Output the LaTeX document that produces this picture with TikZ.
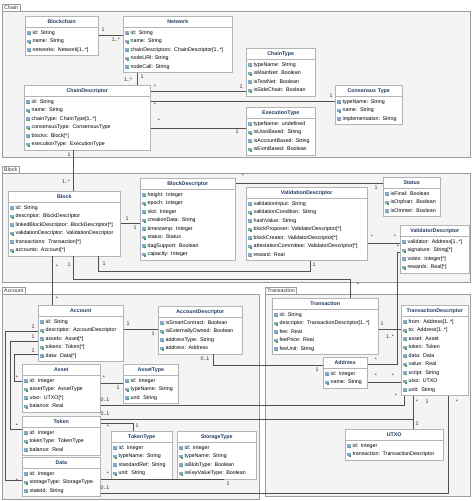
\documentclass[tikz,border=0pt]{standalone}
\usepackage{fontspec}
\setmainfont{Liberation Sans}
\usetikzlibrary{shapes.multipart}
\definecolor{headcol}{HTML}{1F3A60}
\definecolor{txtcol}{HTML}{303030}
\definecolor{boxline}{HTML}{B4B4B4}
\definecolor{pkgline}{HTML}{9C9C9C}
\definecolor{pkgfill}{HTML}{F4F4F4}
\definecolor{linecol}{HTML}{505050}
\definecolor{fldblue}{HTML}{86AACB}
\definecolor{fldgreen}{HTML}{3E9E5A}
\tikzset{
  umlclass/.style={rectangle split, rectangle split parts=2, draw=boxline, fill=white,
    anchor=north west, inner xsep=2pt, inner ysep=1pt, text=txtcol,
    font=\fontsize{5.3}{8.5}\selectfont, line width=0.5pt},
  pkg/.style={draw=pkgline, fill=pkgfill, line width=0.5pt},
  pkgtab/.style={draw=pkgline, fill=white, anchor=south west, inner xsep=2pt, inner ysep=1.5pt,
    font=\fontsize{5.3}{6}\selectfont, text=txtcol, line width=0.5pt},
  assoc/.style={draw=linecol, line width=0.6pt},
  mult/.style={font=\fontsize{5.3}{6}\selectfont, inner sep=0pt, text=txtcol}
}
\newcommand\fld{\strut\textcolor{fldblue}{\rule[-0.3pt]{3.8pt}{3.4pt}}\kern-1.7pt\textcolor{fldgreen}{\rule[-0.9pt]{1.7pt}{1.7pt}}\kern1.6pt}
\newcommand\hd[1]{\centering\textbf{\textcolor{headcol}{#1}}\strut\par}

\begin{document}
\begin{tikzpicture}[x=1pt, y=-1pt]
\useasboundingbox (0,0) rectangle (474,501);

% packages
\draw[pkg] (2,11) rectangle (470,157);
\node[pkgtab] (chaintab) at (2,11) {Chain};
\draw[pkg] (2,173) rectangle (470,282);
\node[pkgtab] (blocktab) at (2,173) {Block};
\draw[pkg] (2,294) rectangle (259,499);
\node[pkgtab] (accounttab) at (2,294) {Account};
\draw[pkg] (265,294) rectangle (470,496);
\node[pkgtab] (transactiontab) at (265,294) {Transaction};

% Chain
\node[umlclass, text width=69pt] (blockchain) at (25,16) {\hd{Blockchain}\nodepart{two}\raggedright
  \fld id: String\\ \fld name: String\\ \fld networks: Network[1..*]};
\node[umlclass, text width=105pt] (network) at (123,16) {\hd{Network}\nodepart{two}\raggedright
  \fld id: String\\ \fld name: String\\ \fld chainDescriptors: ChainDescriptor[1..*]\\
  \fld nodeURI: String\\ \fld nodeCall: String};
\node[umlclass, text width=122pt] (chaindesc) at (24,85) {\hd{ChainDescriptor}\nodepart{two}\raggedright
  \fld id: String\\ \fld name: String\\ \fld chainType: ChainType[1..*]\\
  \fld consensusType: ConsensusType\\ \fld blocks: Block[*]\\ \fld executionType: ExecutionType};
\node[umlclass, text width=65pt] (chaintype) at (246,48) {\hd{ChainType}\nodepart{two}\raggedright
  \fld typeName: String\\ \fld isMainNet: Boolean\\ \fld isTestNet: Boolean\\ \fld isSideChain: Boolean};
\node[umlclass, text width=63pt] (consensus) at (335,85) {\hd{Consensus Type}\nodepart{two}\raggedright
  \fld typeName: String\\ \fld name: String\\ \fld implementation: String};
\node[umlclass, text width=65pt] (exectype) at (246,107) {\hd{ExecutionType}\nodepart{two}\raggedright
  \fld typeName: undefined\\ \fld isUtxoBased: String\\ \fld isAccountBased: String\\ \fld isEvmBased: Boolean};

% Block
\node[umlclass, text width=108pt] (block) at (8,191) {\hd{Block}\nodepart{two}\raggedright
  \fld id: String\\ \fld descriptor: BlockDescriptor\\ \fld linkedBlockDescriptor: BlockDescriptor[*]\\
  \fld validationDescriptor: ValidationDescriptor\\ \fld transactions: Transaction[*]\\ \fld accounts: Account[*]};
\node[umlclass, text width=91pt] (blockdesc) at (140,178) {\hd{BlockDescriptor}\nodepart{two}\raggedright
  \fld height: Integer\\ \fld epoch: Integer\\ \fld slot: Integer\\ \fld creationData: String\\
  \fld timestamp: Integer\\ \fld status: Status\\ \fld dagSupport: Boolean\\ \fld capacity: Integer};
\node[umlclass, text width=117pt] (validation) at (246,187) {\hd{ValidationDescriptor}\nodepart{two}\raggedright
  \fld validationInput: String\\ \fld validationCondition: String\\ \fld hashValue: String\\
  \fld blockProposer: ValidatorDescriptor[*]\\ \fld blockCreator: ValidatorDescriptor[*]\\
  \fld attestationCommittee: ValidatorDescriptor[*]\\ \fld reward: Real};
\node[umlclass, text width=53pt] (status) at (383,177) {\hd{Status}\nodepart{two}\raggedright
  \fld isFinal: Boolean\\ \fld isOrphan: Boolean\\ \fld isOmmer: Boolean};
\node[umlclass, text width=65pt] (validator) at (400,225) {\hd{ValidatorDescriptor}\nodepart{two}\raggedright
  \fld validator: Address[1..*]\\ \fld signature: String[*]\\ \fld votes: Integer[*]\\ \fld rewards: Real[*]};

% Account
\node[umlclass, text width=81pt] (account) at (38,305) {\hd{Account}\nodepart{two}\raggedright
  \fld id: String\\ \fld descriptor: AccountDescriptor\\ \fld assets: Asset[*]\\ \fld tokens: Token[*]\\ \fld data: Data[*]};
\node[umlclass, text width=80pt] (accdesc) at (158,306) {\hd{AccountDescriptor}\nodepart{two}\raggedright
  \fld isSmartContract: Boolean\\ \fld isExternallyOwned: Boolean\\ \fld addressType: String\\ \fld address: Address};
\node[umlclass, text width=74pt] (asset) at (22,364) {\hd{Asset}\nodepart{two}\raggedright
  \fld id: Integer\\ \fld assetType: AssetType\\ \fld utxo: UTXO[*]\\ \fld balance: Real};
\node[umlclass, text width=51pt] (assettype) at (123,364) {\hd{AssetType}\nodepart{two}\raggedright
  \fld id: Integer\\ \fld typeName: String\\ \fld unit: String};
\node[umlclass, text width=74pt] (token) at (22,416) {\hd{Token}\nodepart{two}\raggedright
  \fld id: Integer\\ \fld tokenType: TokenType\\ \fld balance: Real};
\node[umlclass, text width=74pt] (data) at (22,457) {\hd{Data}\nodepart{two}\raggedright
  \fld id: Integer\\ \fld storageType: StorageType\\ \fld stateId: String};
\node[umlclass, text width=57pt] (tokentype) at (111,431) {\hd{TokenType}\nodepart{two}\raggedright
  \fld id: Integer\\ \fld typeName: String\\ \fld standardRef: String\\ \fld unit: String};
\node[umlclass, text width=75pt] (storagetype) at (177,431) {\hd{StorageType}\nodepart{two}\raggedright
  \fld id: Integer\\ \fld typeName: String\\ \fld isBlobType: Boolean\\ \fld isKeyValueType: Boolean};

% Transaction
\node[umlclass, text width=102pt] (transaction) at (272,298) {\hd{Transaction}\nodepart{two}\raggedright
  \fld id: String\\ \fld descriptor: TransactionDescriptor[1..*]\\ \fld fee: Real\\ \fld feePrice: Real\\ \fld feeUnit: String};
\node[umlclass, text width=63pt] (txdesc) at (401,305) {\hd{TransactionDescriptor}\nodepart{two}\raggedright
  \fld from: Address[1..*]\\ \fld to: Address[1..*]\\ \fld asset: Asset\\ \fld token: Token\\ \fld data: Data\\
  \fld value: Real\\ \fld script: String\\ \fld utxo: UTXO\\ \fld unit: String};
\node[umlclass, text width=40pt] (address) at (323,357) {\hd{Address}\nodepart{two}\raggedright
  \fld id: Integer\\ \fld name: String};
\node[umlclass, text width=94pt] (utxo) at (345,429) {\hd{UTXO}\nodepart{two}\raggedright
  \fld id: Integer\\ \fld transaction: TransactionDescriptor};

% associations
\draw[assoc] (blockchain.east |- 0,35) -- (network.west |- 0,35);
\draw[assoc] (network.south -| 137,0) -- (chaindesc.north -| 137,0);
\draw[assoc] (chaindesc.east |- 0,91) -- (chaintype.west |- 0,91);
\draw[assoc] (chaindesc.east |- 0,101) -- (consensus.west |- 0,101);
\draw[assoc] (chaindesc.east |- 0,128) -- (exectype.west |- 0,128);
\draw[assoc] (chaindesc.south -| 73,0) -- (block.north -| 73,0);
\draw[assoc] (block.east |- 0,223) -- (blockdesc.west |- 0,223);
\draw[assoc] (blockdesc.east |- 0,183) -- (status.west |- 0,183);
\draw[assoc] (validation.east |- 0,243) -- (validator.west |- 0,243);
\draw[assoc] (block.south -| 98,0) |- (310,271) -- (validation.south -| 310,0);
\draw[assoc] (block.south -| 73,0) |- (350,279) -- (transaction.north -| 350,0);
\draw[assoc] (block.south -| 52,0) -- (account.north -| 52,0);
\draw[assoc] (validator.west |- 0,252) -- (397,252) |- (address.east |- 0,364);
\draw[assoc] (address.east |- 0,382) -- (txdesc.west |- 0,382);
\draw[assoc] (transaction.east |- 0,329) -- (txdesc.west |- 0,329);
\draw[assoc] (txdesc.south -| 413,0) -- (utxo.north -| 413,0);
\draw[assoc] (account.east |- 0,329) -- (accdesc.west |- 0,329);
\draw[assoc] (accdesc.south -| 213,0) |- (address.west |- 0,365);
\draw[assoc] (account.west |- 0,331) -| (5,480) -- (data.west |- 0,480);
\draw[assoc] (account.west |- 0,341) -| (10,429) -- (token.west |- 0,429);
\draw[assoc] (account.west |- 0,354) -| (14,381) -- (asset.west |- 0,381);
\draw[assoc] (asset.east |- 0,383) -- (assettype.west |- 0,383);
\draw[assoc] (asset.east |- 0,405) -| (txdesc.south -| 404,0);
\draw[assoc] (token.east |- 0,423) -| (tokentype.north -| 133,0);
\draw[assoc] (token.east |- 0,419) -| (txdesc.south -| 413,0);
\draw[assoc] (data.east |- 0,479) -| (storagetype.south -| 223,0);
\draw[assoc] (data.east |- 0,493) -| (txdesc.south -| 448,0);

% multiplicities
\node[mult] (m1) at (103,30) {1};
\node[mult] (m2) at (116,40) {1..*};
\node[mult] (m3) at (128,80) {1..*};
\node[mult] (m4) at (142,77) {1};
\node[mult] (m5) at (155,87) {*};
\node[mult] (m6) at (241,87) {1};
\node[mult] (m7) at (155,105) {*};
\node[mult] (m8) at (331,96) {1};
\node[mult] (m9) at (159,121) {*};
\node[mult] (m10) at (237,132) {1};
\node[mult] (m11) at (69,155) {1};
\node[mult] (m12) at (66,182) {1..*};
\node[mult] (m13) at (127,219) {1};
\node[mult] (m14) at (135,228) {1};
\node[mult] (m15) at (243,176) {*};
\node[mult] (m16) at (376,188) {1};
\node[mult] (m17) at (372,237) {*};
\node[mult] (m18) at (395,237) {*};
\node[mult] (m19) at (57,267) {*};
\node[mult] (m20) at (69,265) {1};
\node[mult] (m21) at (104,264) {1};
\node[mult] (m22) at (314,265) {1};
\node[mult] (m23) at (358,285) {*};
\node[mult] (m24) at (57,299) {*};
\node[mult] (m25) at (398,247) {*};
\node[mult] (m26) at (376,360) {*};
\node[mult] (m27) at (128,324) {1};
\node[mult] (m28) at (153,334) {1};
\node[mult] (m29) at (33,327) {1};
\node[mult] (m30) at (33,337) {1};
\node[mult] (m31) at (33,351) {1};
\node[mult] (m32) at (17,378) {*};
\node[mult] (m33) at (17,426) {*};
\node[mult] (m34) at (17,481) {*};
\node[mult] (m35) at (104,378) {*};
\node[mult] (m36) at (118,388) {1};
\node[mult] (m37) at (105,400) {0..1};
\node[mult] (m38) at (105,414) {0..1};
\node[mult] (m39) at (108,427) {*};
\node[mult] (m40) at (137,426) {1};
\node[mult] (m41) at (108,474) {*};
\node[mult] (m42) at (228,484) {1};
\node[mult] (m43) at (105,488) {0..1};
\node[mult] (m44) at (205,359) {0..1};
\node[mult] (m45) at (317,370) {1};
\node[mult] (m46) at (382,324) {1};
\node[mult] (m47) at (390,337) {1..*};
\node[mult] (m48) at (376,376) {*};
\node[mult] (m49) at (393,376) {*};
\node[mult] (m50) at (396,396) {*};
\node[mult] (m51) at (417,402) {*};
\node[mult] (m52) at (427,402) {1};
\node[mult] (m53) at (457,402) {*};
\node[mult] (m54) at (417,424) {1};
\end{tikzpicture}
\end{document}
